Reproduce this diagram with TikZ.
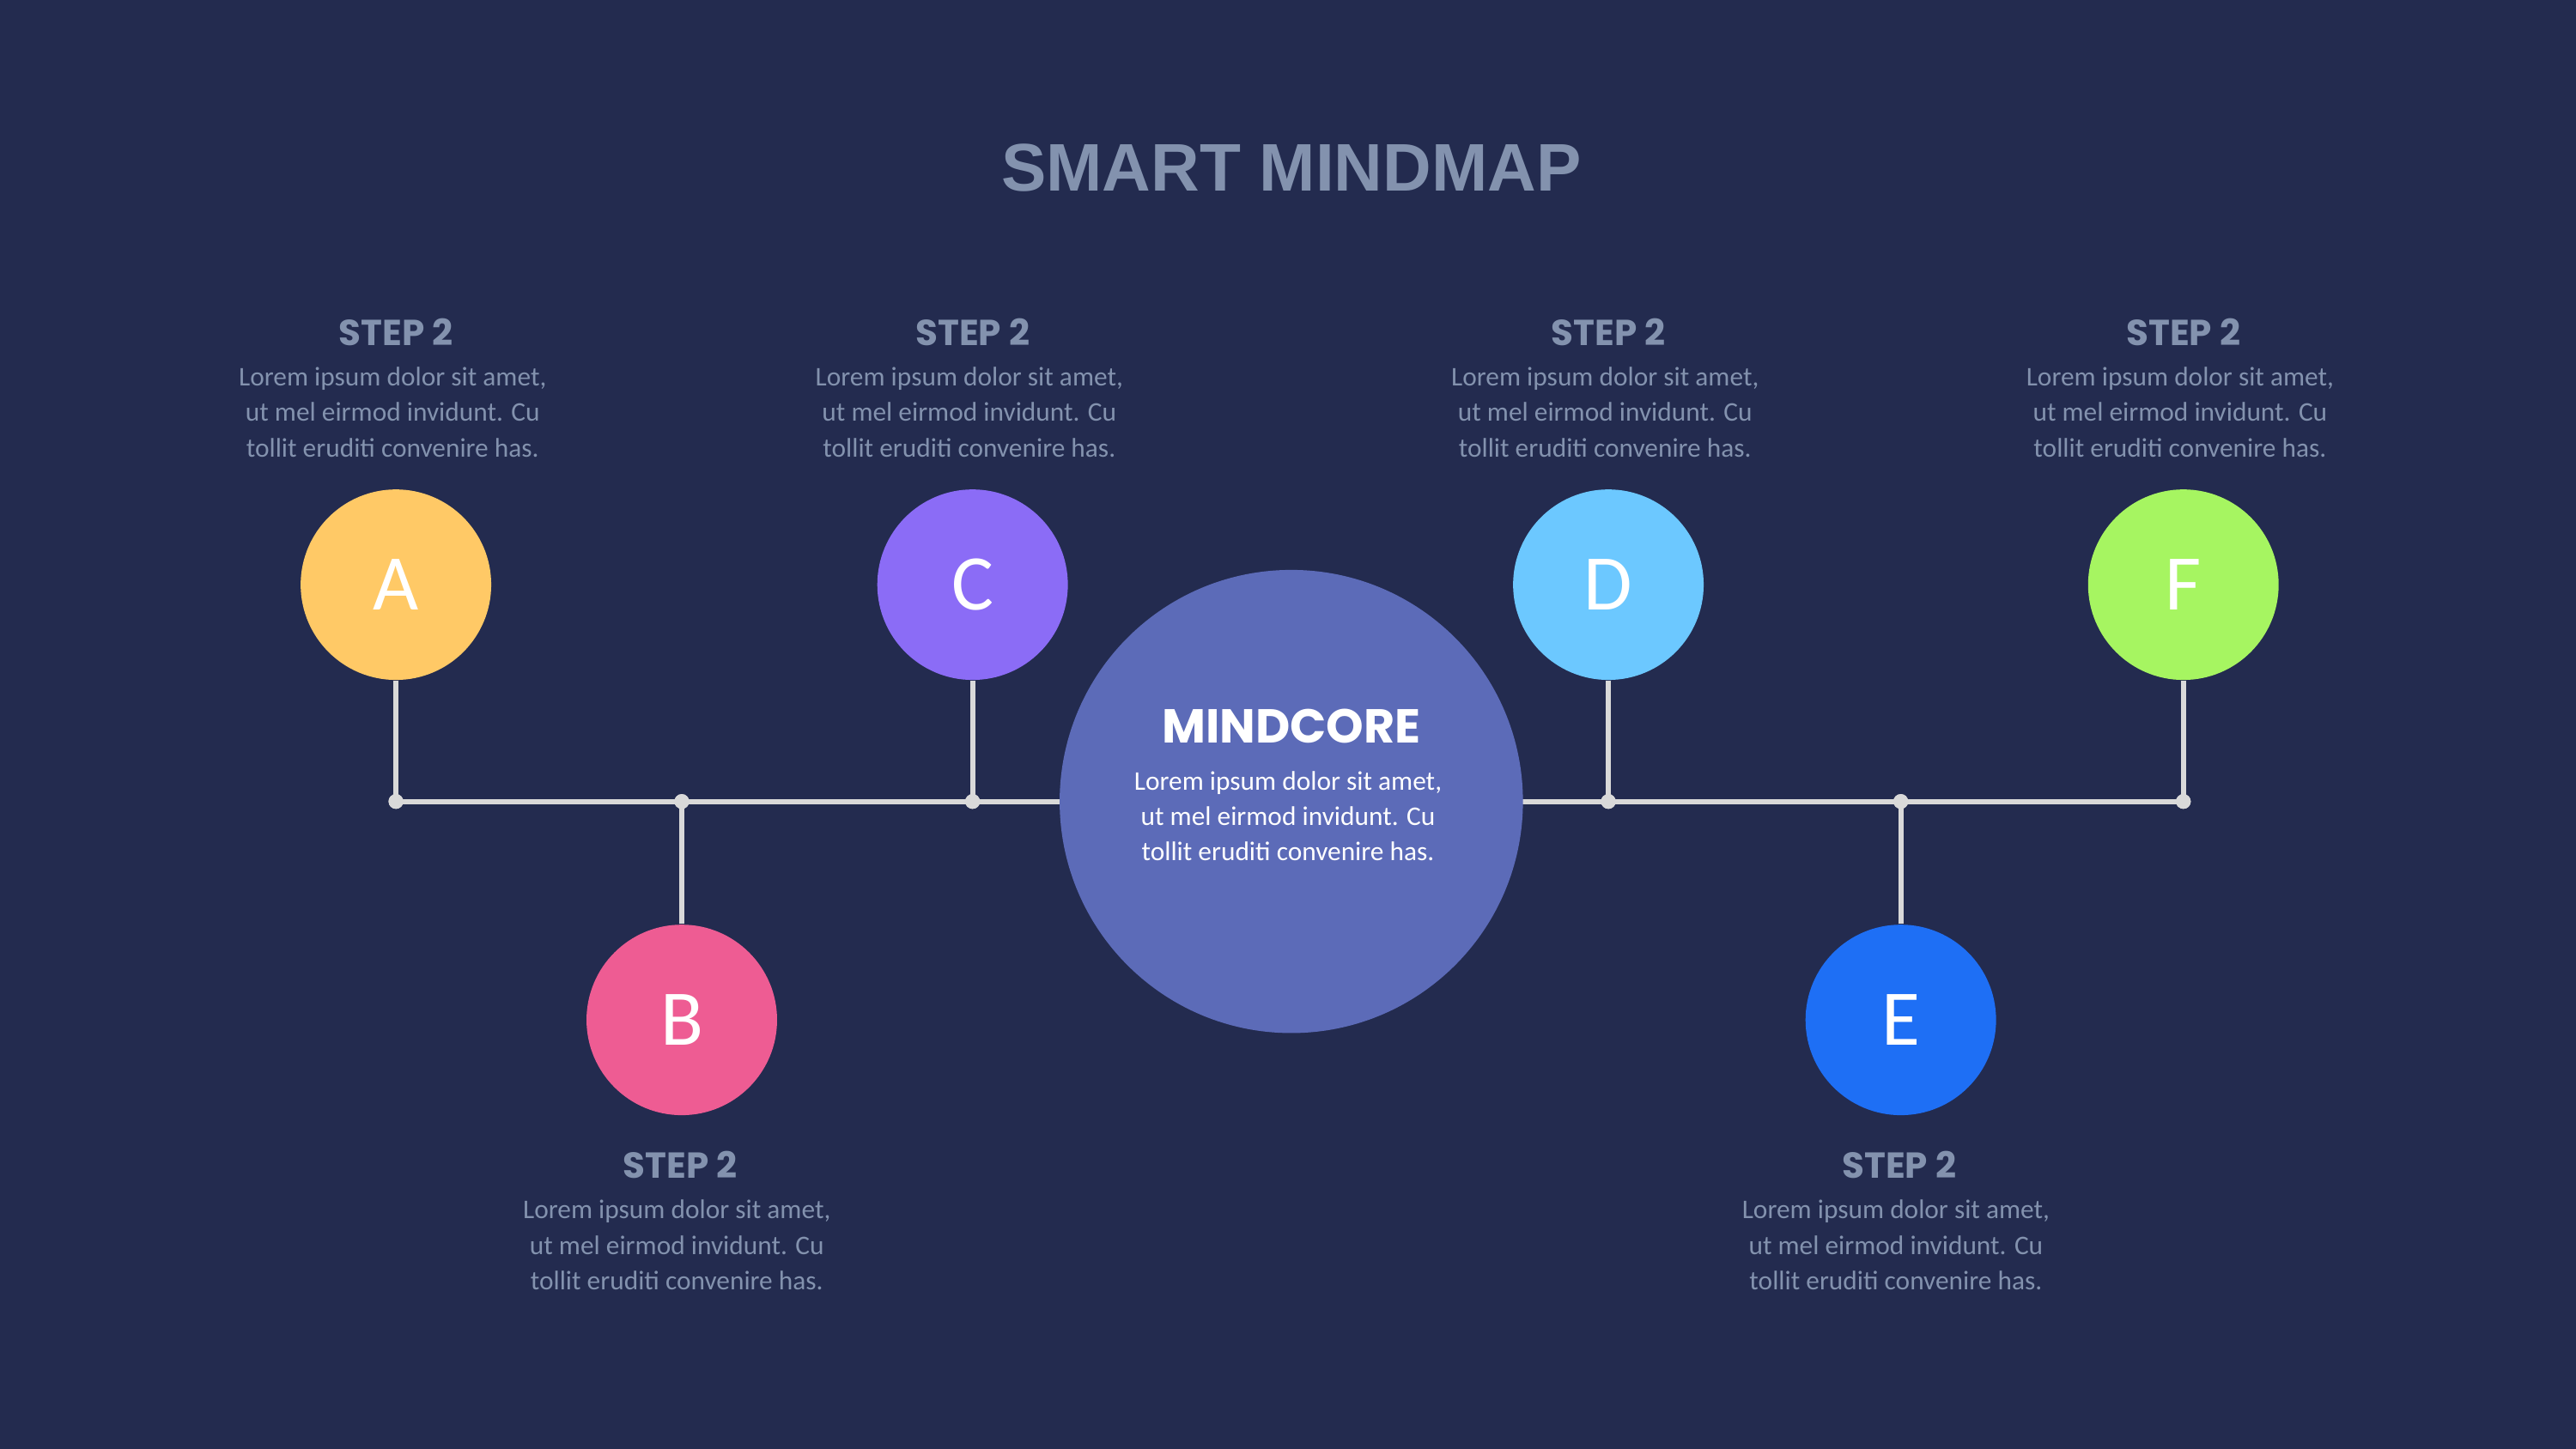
\documentclass[tikz,border=0pt]{standalone}
\usepackage{fontspec}
\setmainfont{Carlito}
\newfontfamily\titlefont{Liberation Sans}
\newfontfamily\stepfont{Poppins}
\definecolor{bg}{HTML}{232B4F}
\definecolor{tgrey}{HTML}{8392AE}
\definecolor{lgrey}{HTML}{D9D9D9}
\definecolor{cA}{HTML}{FFC966}
\definecolor{cB}{HTML}{EE5C93}
\definecolor{cC}{HTML}{8B6CF6}
\definecolor{cD}{HTML}{6CC8FF}
\definecolor{cE}{HTML}{1E6FF5}
\definecolor{cF}{HTML}{A6F561}
\definecolor{core}{HTML}{5C6BB8}
\tikzset{
 letter/.style={circle,minimum size=58pt,inner sep=0pt,text=white,font=\fontsize{24}{24}\selectfont},
 steptitle/.style={text=tgrey,font=\stepfont\bfseries\fontsize{11}{11}\selectfont},
 body/.style={text=tgrey,align=center,font=\fontsize{8.2}{10.8}\selectfont},
 conn/.style={lgrey,line width=1.5pt},
 dotn/.style={circle,fill=lgrey,minimum size=4.5pt,inner sep=0pt}
}
\begin{document}
\begin{tikzpicture}[x=0.5pt,y=-0.5pt]
\fill[bg] (0,0) rectangle (1568,882);
\useasboundingbox (0,0) rectangle (1568,882);
\node[text=tgrey,font=\titlefont\bfseries\fontsize{20.5}{20}\selectfont] (title) at (786,102) {SMART MINDMAP};
\node[dotn] (pA) at (241,488) {};
\node[dotn] (pB) at (415,488) {};
\node[dotn] (pC) at (592,488) {};
\node[dotn] (pD) at (979,488) {};
\node[dotn] (pE) at (1157,488) {};
\node[dotn] (pF) at (1329,488) {};
\node[letter,fill=cA] (A) at (241,356) {A};
\node[letter,fill=cC] (C) at (592,356) {C};
\node[letter,fill=cD] (D) at (979,356) {D};
\node[letter,fill=cF] (F) at (1329,356) {F};
\node[letter,fill=cB] (B) at (415,621) {B};
\node[letter,fill=cE] (E) at (1157,621) {E};
\draw[conn] (pA.center) -- (pF.center);
\foreach \n in {A,B,C,D,E,F}{\draw[conn] (\n) -- (p\n.center); \node[dotn] at (p\n) {};}
\node[circle,fill=core,minimum size=141pt,inner sep=0pt] (core) at (786,488) {};
\node[text=white,font=\stepfont\bfseries\fontsize{14.5}{14}\selectfont] (ct) at (786,442) {MINDCORE};
\node[body,text=white] (cb) at (784,497) {Lorem ipsum dolor sit amet,\\ut mel eirmod invidunt. Cu\\tollit eruditi convenire has.};
\foreach \n/\x in {a/241,c/592,d/979,f/1329}{
 \node[steptitle] (s\n) at (\x,202) {STEP 2};
 \node[body] (b\n) at (\x-2,251) {Lorem ipsum dolor sit amet,\\ut mel eirmod invidunt. Cu\\tollit eruditi convenire has.};
}
\foreach \n/\x in {b/415,e/1157}{
 \node[steptitle] (s\n) at (\x-1,709) {STEP 2};
 \node[body] (b\n) at (\x-3,758) {Lorem ipsum dolor sit amet,\\ut mel eirmod invidunt. Cu\\tollit eruditi convenire has.};
}
\end{tikzpicture}
\end{document}
